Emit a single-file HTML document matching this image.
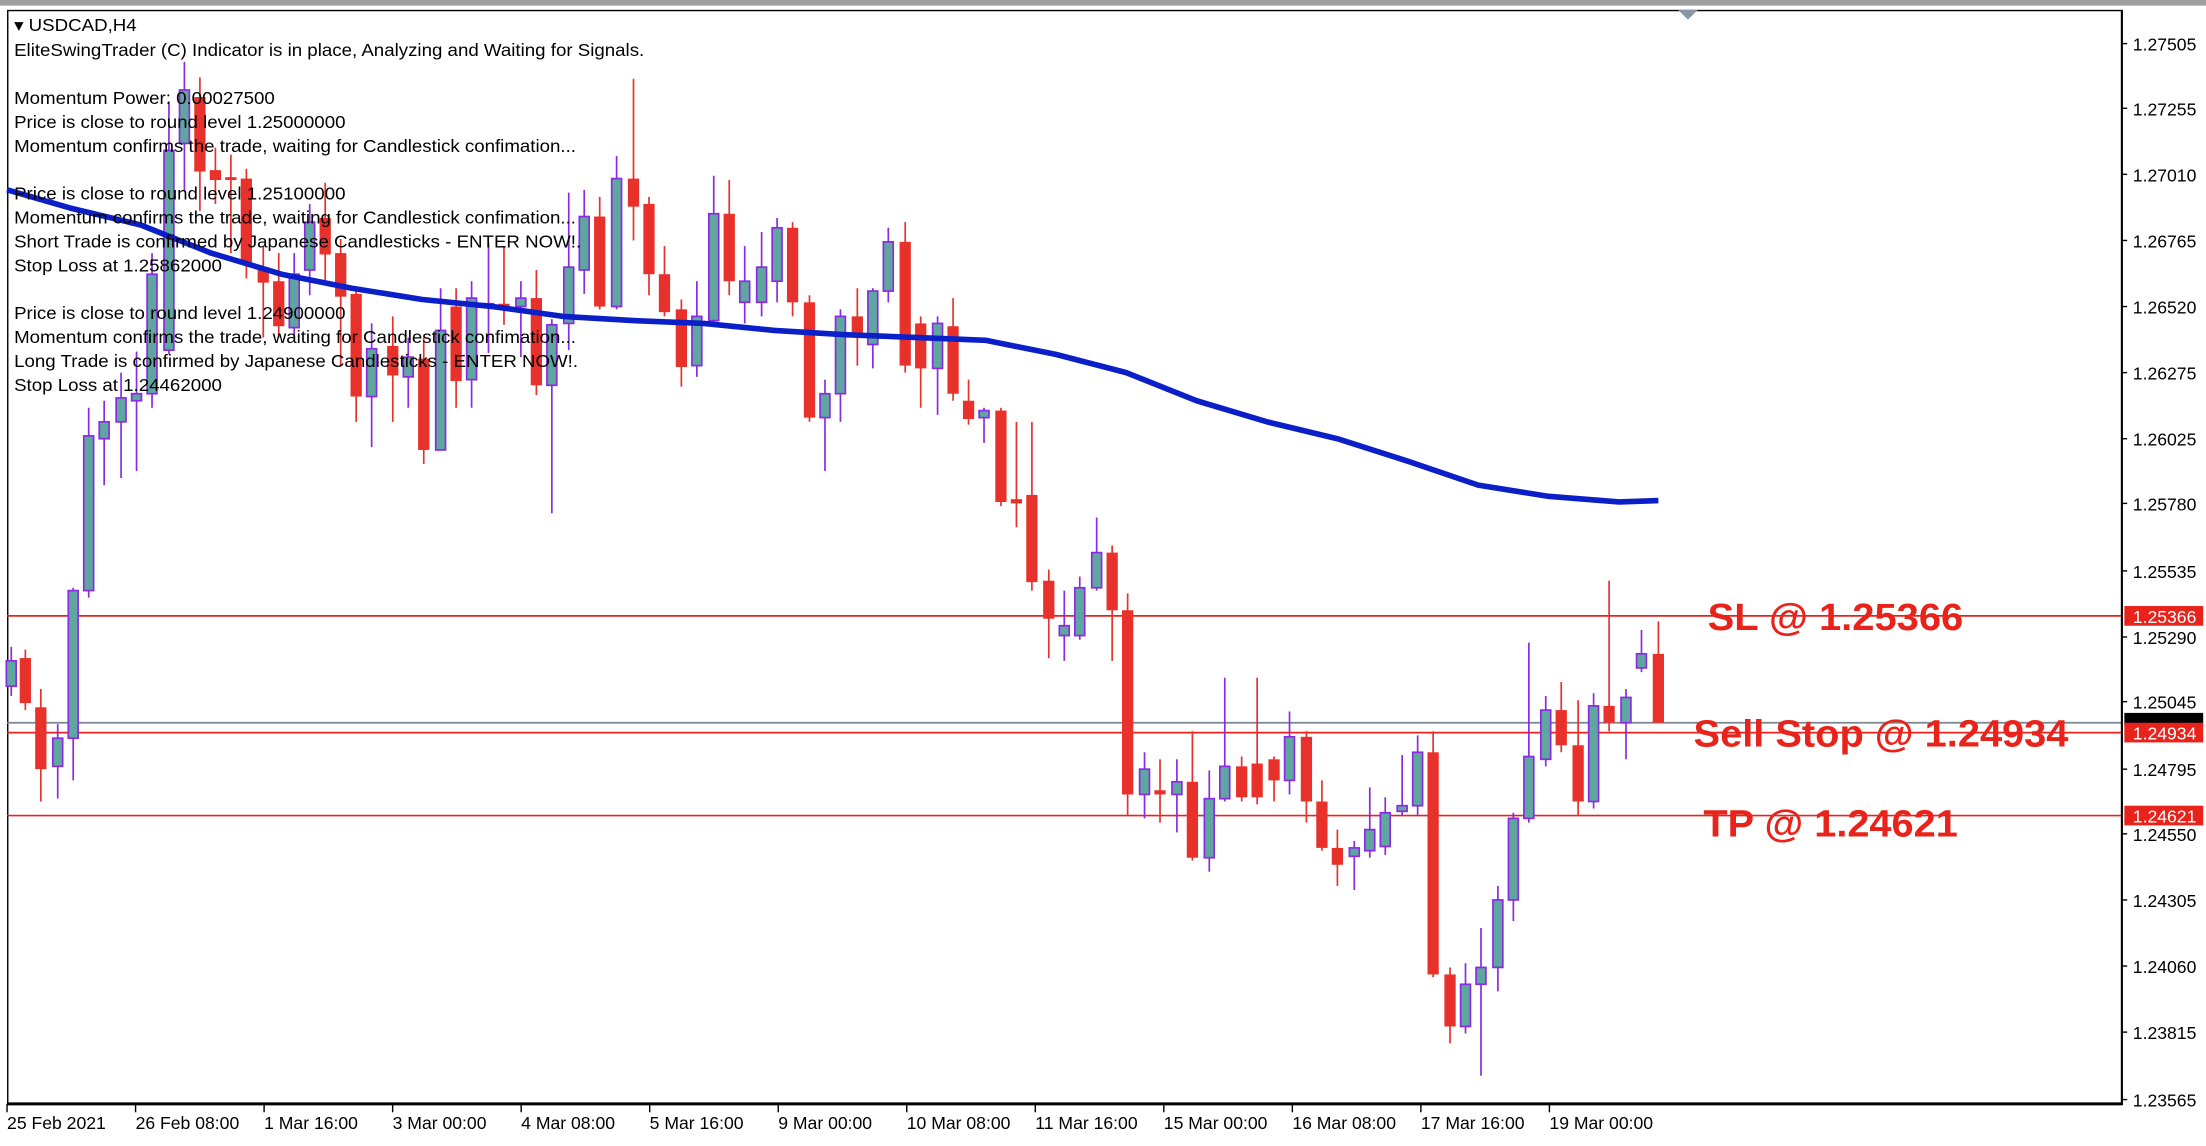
<!DOCTYPE html>
<html><head><meta charset="utf-8"><style>
html,body{margin:0;padding:0;background:#fff;}
svg{display:block;}
text{font-family:"Liberation Sans",sans-serif;}
</style></head><body>
<svg id="s" width="2206" height="1146" viewBox="0 0 1567 815" preserveAspectRatio="none" xmlns="http://www.w3.org/2000/svg">
<rect x="0" y="0" width="1567" height="815" fill="#fff"/>
<rect x="0" y="0" width="1567" height="4" fill="#a0a0a0"/>
<rect x="5.5" y="7.5" width="1502" height="778" fill="none" stroke="#000" stroke-width="1"/>
<g id="lines"></g>
<g id="candles"></g>
<polyline fill="none" stroke="#0a1fc8" stroke-width="4" stroke-linejoin="round" points="5,135 50,148 100,160 150,180 200,195 250,205 300,213 350,218 400,225 450,228 500,230 550,235 600,238 650,240 700,242 750,252 800,265 850,285 900,300 950,312 1000,328 1050,345 1100,353 1150,357 1178,356"/>
<g font-size="12.3" fill="#000" transform="translate(10,0) scale(1.08,1) translate(-10,0)">
<text x="10" y="22">▾ USDCAD,H4</text>
<text x="10" y="40">EliteSwingTrader (C) Indicator is in place, Analyzing and Waiting for Signals.</text>
<text x="10" y="74">Momentum Power: 0.00027500</text>
<text x="10" y="91">Price is close to round level 1.25000000</text>
<text x="10" y="108">Momentum confirms the trade, waiting for Candlestick confimation...</text>
<text x="10" y="142">Price is close to round level 1.25100000</text>
<text x="10" y="159">Momentum confirms the trade, waiting for Candlestick confimation...</text>
<text x="10" y="176">Short Trade is confirmed by Japanese Candlesticks - ENTER NOW!.</text>
<text x="10" y="193">Stop Loss at 1.25862000</text>
<text x="10" y="227">Price is close to round level 1.24900000</text>
<text x="10" y="244">Momentum confirms the trade, waiting for Candlestick confimation...</text>
<text x="10" y="261">Long Trade is confirmed by Japanese Candlesticks - ENTER NOW!.</text>
<text x="10" y="278">Stop Loss at 1.24462000</text>
</g>
<g font-size="27" font-weight="bold" fill="#e8231b">
<text x="1213" y="448" transform="translate(1213,0) scale(1.05,1) translate(-1213,0)">SL @ 1.25366</text>
<text x="1203" y="531" transform="translate(1203,0) scale(1.047,1) translate(-1203,0)">Sell Stop @ 1.24934</text>
<text x="1210" y="595" transform="translate(1210,0) scale(1.045,1) translate(-1210,0)">TP @ 1.24621</text>
</g>
<g id="axis" font-size="12.5" fill="#000"></g>
<polygon points="1192,7 1206,7 1199,14" fill="#8a96a4"/>
</svg>
<script>
var ns="http://www.w3.org/2000/svg";
function el(p,t,a,txt){var e=document.createElementNS(ns,t);for(var k in a)e.setAttribute(k,a[k]);if(txt)e.textContent=txt;p.appendChild(e);return e;}
var L=document.getElementById('lines');
el(L,'line',{x1:5,x2:1507,y1:514,y2:514,stroke:'#7a8592','stroke-width':1.2});
[438,521,580].forEach(function(y){el(L,'line',{x1:5,x2:1507,y1:y,y2:y,stroke:'#e8231b','stroke-width':1.2});});
var C=document.getElementById('candles');
var d=[
[8,'b',470,488,460,495],[18,'r',468,500,462,505],[29,'r',503,547,490,570],[41,'b',525,545,515,568],
[52,'b',420,525,418,555],[63,'b',310,420,290,425],[74,'b',300,312,285,345],[86,'b',283,300,265,340],
[97,'b',280,285,250,335],[108,'b',195,280,180,290],[120,'b',107,249,72,252],[131,'b',64,102,44,136],
[142,'r',69,122,55,150],[153,'r',121,128,105,145],[164,'r',126,128,110,180],[175,'r',127,188,120,198],
[187,'r',190,201,175,240],[198,'r',200,232,180,240],[209,'b',195,233,180,240],[220,'b',158,192,145,210],
[231,'r',155,181,130,200],[242,'r',180,211,170,260],[253,'r',209,282,205,300],[264,'b',248,282,230,318],
[279,'r',246,267,225,300],[290,'b',254,268,240,290],[301,'r',255,320,240,330],[313,'b',235,320,205,320],
[324,'r',218,271,205,290],[335,'b',212,270,200,290],[347,'b',216,218,173,251],[358,'r',216,219,175,231],
[370,'b',212,218,200,254],[381,'r',212,274,192,281],[392,'b',231,274,227,365],[404,'b',190,230,137,249],
[415,'b',154,192,135,209],[426,'r',154,218,140,220],[438,'b',127,218,111,220],[450,'r',127,147,56,171],
[461,'r',145,195,140,210],[472,'r',195,222,175,225],[484,'r',220,261,213,275],[495,'b',225,260,200,268],
[507,'b',152,228,125,232],[518,'r',152,200,128,210],[529,'b',200,215,175,230],[541,'b',190,215,165,225],
[552,'b',162,200,155,215],[563,'r',162,215,158,225],[575,'r',215,297,210,300],[586,'b',280,297,270,335],
[597,'b',225,280,220,300],[609,'r',225,240,205,260],[620,'b',207,245,205,262],[631,'b',172,207,162,215],
[643,'r',172,260,158,265],[654,'r',230,262,225,290],[666,'b',230,262,225,295],[677,'r',232,280,212,285],
[688,'r',285,298,270,302],[699,'b',292,297,290,315],[711,'r',292,357,290,360],[722,'r',355,358,300,375],
[733,'r',352,414,300,420],[745,'r',413,440,405,468],[756,'b',445,452,420,470],[767,'b',418,452,410,455],
[779,'b',393,418,368,420],[790,'r',393,434,388,470],[801,'r',434,565,422,580],[813,'b',547,565,535,582],
[824,'r',562,565,540,585],[836,'b',556,565,540,592],[847,'r',556,610,520,612],[859,'b',568,610,548,620],
[870,'b',545,568,482,570],[882,'r',545,567,538,570],[893,'r',543,567,482,572],[905,'r',540,555,538,570],
[916,'b',524,555,506,565],[928,'r',524,570,520,585],[939,'r',570,603,555,605],[950,'r',603,615,590,630],
[962,'b',603,609,598,633],[973,'b',590,605,560,610],[984,'b',578,602,567,608],[996,'b',573,577,537,580],
[1007,'b',535,573,523,580],[1018,'r',535,693,520,695],[1030,'r',693,730,688,742],[1041,'b',700,730,685,735],
[1052,'b',688,700,660,765],[1064,'b',640,688,630,705],[1075,'b',582,640,578,655],[1086,'b',538,582,457,585],
[1098,'b',505,540,495,545],[1109,'r',505,530,485,535],[1121,'r',530,570,498,580],[1132,'b',502,570,493,575],
[1143,'r',502,514,413,520],[1155,'b',496,514,490,540],[1166,'b',465,475,448,478],[1178,'r',465,514,442,514]];
d.forEach(function(c){
 var x=c[0],bull=c[1]=='b',col=bull?'#8a2be2':'#e8312a';
 el(C,'line',{x1:x,x2:x,y1:c[4],y2:c[5],stroke:col,'stroke-width':1.2});
 var h=Math.max(c[3]-c[2],2);
 if(bull) el(C,'rect',{x:x-3.5,y:c[2],width:7,height:h,fill:'#5fa5a0',stroke:col,'stroke-width':1.2});
 else el(C,'rect',{x:x-4,y:c[2],width:8,height:h,fill:col});
});
var A=document.getElementById('axis');
el(A,'line',{x1:1507,x2:1507,y1:7,y2:785,stroke:'#000','stroke-width':1});
[['1.27505',31],['1.27255',77],['1.27010',124],['1.26765',171],['1.26520',218],['1.26275',265],['1.26025',312],['1.25780',358],['1.25535',406],['1.25290',453],['1.25045',499],['1.24795',547],['1.24550',593],['1.24305',640],['1.24060',687],['1.23815',734],['1.23565',782]].forEach(function(t){
 el(A,'line',{x1:1507,x2:1511,y1:t[1],y2:t[1],stroke:'#000'});
 el(A,'text',{x:1515,y:t[1]+5},t[0]);
});
el(A,'rect',{x:1509,y:507,width:56,height:9,fill:'#000'});
[['1.25366',438],['1.24934',521],['1.24621',580]].forEach(function(t){
 el(A,'rect',{x:1509,y:t[1]-7,width:56,height:14,fill:'#e8231b'});
 el(A,'text',{x:1515,y:t[1]+5,fill:'#fff'},t[0]);
});
el(L,'line',{x1:5,x2:1507,y1:785,y2:785,stroke:'#000','stroke-width':2});
var dates=['25 Feb 2021','26 Feb 08:00','1 Mar 16:00','3 Mar 00:00','4 Mar 08:00','5 Mar 16:00','9 Mar 00:00','10 Mar 08:00','11 Mar 16:00','15 Mar 00:00','16 Mar 08:00','17 Mar 16:00','19 Mar 00:00'];
dates.forEach(function(s,i){var x=5+i*91.3;
 el(A,'line',{x1:x,x2:x,y1:785,y2:791,stroke:'#000'});
 el(A,'text',{x:x,y:803,'font-size':12.5},s);
});
</script>
</body></html>
